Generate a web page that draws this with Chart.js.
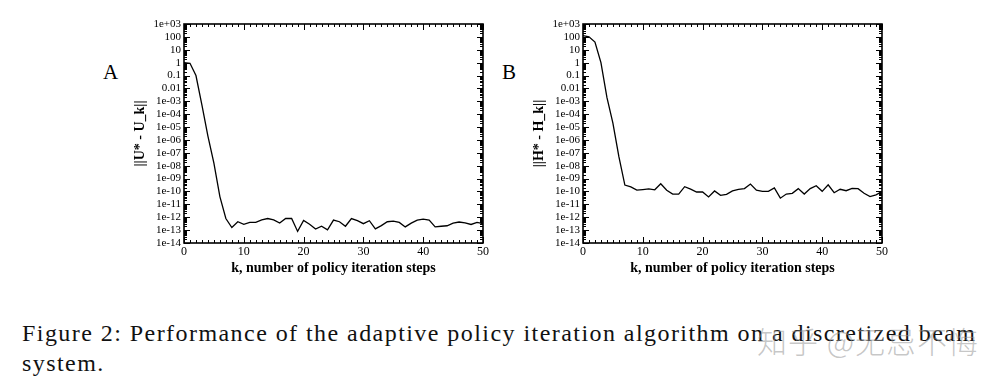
<!DOCTYPE html>
<html>
<head>
<meta charset="utf-8">
<script src="https://cdn.jsdelivr.net/npm/chart.js@4.4.1/dist/chart.umd.min.js"></script>
<style>
  body { margin: 0; background: #fff; width: 997px; height: 384px; overflow: hidden; position: relative; }
  canvas { position: absolute; }
  .panel { position: absolute; font-family: 'Liberation Serif', serif; font-size: 21px; color: #000; }
  .caption { position: absolute; left: 22px; white-space: nowrap; font-family: 'Liberation Serif', serif; font-size: 24px; color: #111; }
  .mark { position: absolute; left: 757px; top: 318px; font-family: 'Noto Sans CJK SC', sans-serif; font-weight: 300; font-size: 30px; color: rgba(150,150,150,0.55); letter-spacing: 1px; }
</style>
</head>
<body>
<div class="panel" style="left:103px; top:60px;">A</div>
<div class="panel" style="left:502px; top:60px;">B</div>
<canvas id="chartA" width="370" height="270" style="left:124px; top:14px;"></canvas>
<canvas id="chartB" width="370" height="270" style="left:523px; top:14px;"></canvas>
<span id="cap1" class="caption" style="top:320px;">Figure 2: Performance of the adaptive policy iteration algorithm on a discretized beam</span>
<span id="cap2" class="caption" style="top:350px;">system.</span>
<div class="mark">知乎 @无忌不悔</div>
<script>
// policy iteration step k
const steps = [0, 1, 2, 3, 4, 5, 6, 7, 8, 9, 10, 11, 12, 13, 14, 15, 16, 17, 18, 19, 20,
  21, 22, 23, 24, 25, 26, 27, 28, 29, 30, 31, 32, 33, 34, 35, 36, 37, 38, 39, 40,
  41, 42, 43, 44, 45, 46, 47, 48, 49, 50];

// log10 of ||U* - U_k|| (panel A)
const errUlog = [0.0, -0.05, -1.0, -3.3, -5.7, -7.8, -10.4, -12.1, -12.8, -12.35, -12.55,
  -12.4, -12.4, -12.2, -12.1, -12.2, -12.45, -12.1, -12.1, -13.1, -12.25,
  -12.55, -12.92, -12.7, -12.98, -12.22, -12.35, -12.7, -12.1, -12.27, -12.5,
  -12.27, -12.9, -12.65, -12.35, -12.3, -12.4, -12.75, -12.46, -12.22, -12.15,
  -12.22, -12.75, -12.7, -12.66, -12.46, -12.37, -12.44, -12.56, -12.4, -12.5];

// log10 of ||H* - H_k|| (panel B)
const errHlog = [2.1, 2.0, 1.6, 0.0, -2.7, -4.7, -7.3, -9.5, -9.65, -9.9, -9.85,
  -9.8, -9.87, -9.4, -9.9, -10.2, -10.2, -9.63, -9.82, -10.04, -10.04,
  -10.42, -9.96, -10.3, -10.22, -9.96, -9.83, -9.78, -9.42, -9.9, -9.99,
  -9.99, -9.73, -10.52, -10.2, -10.14, -9.78, -10.2, -9.78, -9.55, -9.99,
  -9.48, -10.1, -9.83, -9.94, -9.76, -9.78, -10.14, -10.4, -10.26, -10.0];

// y tick labels, top (1e+03) to bottom (1e-14)
const yTickLabels = ['1e+03', '100', '10', '1', '0.1', '0.01', '1e-03', '1e-04', '1e-05',
  '1e-06', '1e-07', '1e-08', '1e-09', '1e-10', '1e-11', '1e-12', '1e-13', '1e-14'];
const yTopExp = 3;
const yBottomExp = -14;
const xTicks = [0, 10, 20, 30, 40, 50];

const serif = "'Liberation Serif', 'Times New Roman', serif";

// stretch the caption so the first line fills the text width, like the justified original
const cap1 = document.getElementById('cap1');
const cap2 = document.getElementById('cap2');
const spread = (953 - cap1.getBoundingClientRect().width) / (cap1.textContent.length - 1);
cap1.style.letterSpacing = spread + 'px';
cap2.style.letterSpacing = spread + 'px';

// inward ticks on all four sides + frame
const frameTicks = {
  id: 'frameTicks',
  afterDraw(chart) {
    const {ctx, chartArea: a, scales: {x, y}} = chart;
    ctx.save();
    ctx.strokeStyle = '#000';
    ctx.lineWidth = 1;
    ctx.beginPath();
    for (let k = 0; k <= 50; k++) {
      const px = Math.round(x.getPixelForValue(k)) + 0.5;
      const len = k % 10 === 0 ? 6 : 3;
      ctx.moveTo(px, a.bottom); ctx.lineTo(px, a.bottom - len);
      ctx.moveTo(px, a.top); ctx.lineTo(px, a.top + len);
    }
    for (let e = yBottomExp; e <= yTopExp; e++) {
      const py = Math.round(y.getPixelForValue(Math.pow(10, e))) + 0.5;
      ctx.moveTo(a.left, py); ctx.lineTo(a.left + 6, py);
      ctx.moveTo(a.right, py); ctx.lineTo(a.right - 6, py);
      if (e < yTopExp) {
        for (let m = 2; m <= 9; m++) {
          const q = Math.round(y.getPixelForValue(m * Math.pow(10, e))) + 0.5;
          ctx.moveTo(a.left, q); ctx.lineTo(a.left + 3, q);
          ctx.moveTo(a.right, q); ctx.lineTo(a.right - 3, q);
        }
      }
    }
    ctx.stroke();
    ctx.lineWidth = 1.6;
    ctx.strokeRect(a.left, a.top, a.right - a.left, a.bottom - a.top);
    ctx.restore();
  }
};

function makeChart(id, logs, yTitle) {
  return new Chart(document.getElementById(id), {
    type: 'line',
    data: {
      labels: steps,
      datasets: [{
        data: logs.map(v => Math.pow(10, v)),
        borderColor: '#000',
        borderWidth: 1.3,
        pointRadius: 0,
        tension: 0,
        fill: false
      }]
    },
    options: {
      responsive: false,
      animation: false,
      devicePixelRatio: 1,
      layout: { padding: { left: 0, right: 11, top: 10, bottom: 5 } },
      plugins: { legend: { display: false }, tooltip: { enabled: false } },
      scales: {
        x: {
          type: 'linear',
          min: 0,
          max: 50,
          afterFit: s => { s.height = 36; },
          afterBuildTicks: s => { s.ticks = xTicks.map(v => ({ value: v })); },
          grid: { display: false, drawTicks: false },
          border: { display: false },
          ticks: { color: '#000', padding: 2, font: { family: serif, size: 12 }, maxRotation: 0 },
          title: {
            display: true,
            text: 'k, number of policy iteration steps',
            color: '#000',
            padding: { top: 0, bottom: 2 },
            font: { family: serif, size: 14, weight: 'bold' }
          }
        },
        y: {
          type: 'logarithmic',
          min: Math.pow(10, yBottomExp),
          max: Math.pow(10, yTopExp),
          afterFit: s => { s.width = 60; },
          afterBuildTicks: s => {
            s.ticks = yTickLabels.map((t, i) => ({ value: Math.pow(10, yTopExp - i) }));
          },
          grid: { display: false, drawTicks: false },
          border: { display: false },
          ticks: {
            color: '#000',
            padding: 3,
            autoSkip: false,
            font: { family: serif, size: 11 },
            callback: v => yTickLabels[yTopExp - Math.round(Math.log10(v))]
          },
          title: {
            display: true,
            text: yTitle,
            color: '#000',
            padding: { top: 8, bottom: 0 },
            font: { family: serif, size: 14, weight: 'bold' }
          }
        }
      }
    },
    plugins: [frameTicks]
  });
}

makeChart('chartA', errUlog, '||U* - U_k||');
makeChart('chartB', errHlog, '||H* - H_k||');
</script>
</body>
</html>
